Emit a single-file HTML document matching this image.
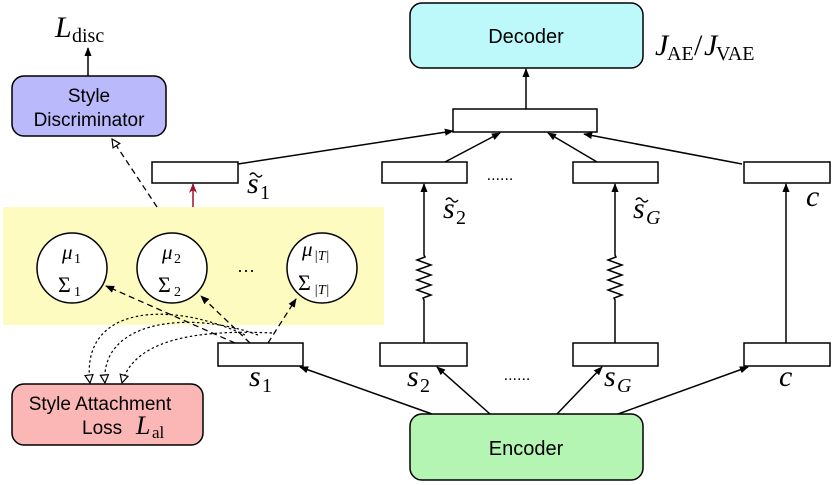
<!DOCTYPE html>
<html><head><meta charset="utf-8"><style>
html,body{margin:0;padding:0;background:#fff;}
svg{display:block;font-family:"Liberation Sans",sans-serif;}
.m{font-family:"Liberation Serif",serif;font-style:italic;}
.r{font-family:"Liberation Serif",serif;font-style:normal;}
</style></head><body>
<svg width="832" height="485" viewBox="0 0 832 485" xmlns="http://www.w3.org/2000/svg">
<defs>
<marker id="a" viewBox="0 0 10 10" refX="9" refY="5" markerWidth="9" markerHeight="9" orient="auto" markerUnits="userSpaceOnUse"><path d="M0,1 L10,5 L0,9 z" fill="#000"/></marker>
<marker id="ar" viewBox="0 0 10 10" refX="9" refY="5" markerWidth="10" markerHeight="10" orient="auto" markerUnits="userSpaceOnUse"><path d="M0,1 L10,5 L0,9 L3,5 z" fill="#a0102a"/></marker>
<marker id="o" viewBox="0 0 10 10" refX="9" refY="5" markerWidth="10" markerHeight="10" orient="auto" markerUnits="userSpaceOnUse"><path d="M1,1 L9,5 L1,9 z" fill="#fff" stroke="#000" stroke-width="1.2"/></marker>
</defs>
<rect x="3" y="207" width="381" height="118" fill="#fdfbbf"/>
<rect x="410" y="3" width="233" height="65" rx="12" fill="#bdf9fb" stroke="#000" stroke-width="1.5"/>
<text x="526" y="43" font-size="20" text-anchor="middle">Decoder</text>
<rect x="410" y="414" width="233" height="66" rx="12" fill="#b4f5b4" stroke="#000" stroke-width="1.5"/>
<text x="526" y="455" font-size="20" text-anchor="middle">Encoder</text>
<rect x="12" y="76" width="154" height="60" rx="12" fill="#b9b9fb" stroke="#000" stroke-width="1.5"/>
<text x="89" y="102" font-size="19" text-anchor="middle">Style</text>
<text x="89" y="126" font-size="19" text-anchor="middle">Discriminator</text>
<rect x="12" y="384" width="191" height="61" rx="12" fill="#fbb6b6" stroke="#000" stroke-width="1.5"/>
<text x="100" y="410" font-size="19" text-anchor="middle">Style Attachment</text>
<text x="82" y="434" font-size="19">Loss</text>
<text x="136" y="434" font-size="26" class="m">L</text><text x="152" y="438" font-size="17" class="r">al</text>
<g fill="#fff" stroke="#000" stroke-width="1.5">
<rect x="453" y="109" width="144" height="23"/>
<rect x="152" y="162" width="86" height="21"/>
<rect x="382" y="162" width="85" height="21"/>
<rect x="573" y="162" width="85" height="21"/>
<rect x="744" y="162" width="86" height="21"/>
<rect x="218" y="343" width="85" height="23"/>
<rect x="380" y="343" width="87" height="23"/>
<rect x="573" y="343" width="85" height="23"/>
<rect x="744" y="343" width="86" height="23"/>
<circle cx="72" cy="268" r="35"/>
<circle cx="172" cy="268" r="35"/>
<circle cx="322" cy="268" r="35"/>
</g>
<text x="62" y="259" font-size="21" class="m">μ</text><text x="74" y="263" font-size="14" class="r">1</text>
<text x="58" y="292" font-size="22" class="r">Σ</text><text x="74" y="296" font-size="14" class="r">1</text>
<text x="162" y="259" font-size="21" class="m">μ</text><text x="174" y="263" font-size="14" class="r">2</text>
<text x="158" y="292" font-size="22" class="r">Σ</text><text x="174" y="296" font-size="14" class="r">2</text>
<text x="302" y="256" font-size="21" class="m">μ</text><text x="314" y="260" font-size="14" class="m">|T|</text>
<text x="298" y="290" font-size="22" class="r">Σ</text><text x="314" y="294" font-size="14" class="m">|T|</text>
<text x="246" y="276" font-size="18" text-anchor="middle">···</text>
<g stroke="#000" stroke-width="1.5" fill="none" marker-end="url(#a)">
<line x1="526" y1="109" x2="526" y2="69"/>
<line x1="88" y1="76" x2="88" y2="48"/>
<line x1="238" y1="164" x2="453" y2="131"/>
<line x1="445" y1="162" x2="500" y2="133"/>
<line x1="597" y1="162" x2="548" y2="133"/>
<line x1="742" y1="164" x2="584" y2="134"/>
<line x1="786" y1="343" x2="786" y2="184"/>
<line x1="432" y1="414" x2="300" y2="367"/>
<line x1="490" y1="414" x2="437" y2="367"/>
<line x1="557" y1="414" x2="602" y2="367"/>
<line x1="618" y1="414" x2="748" y2="367"/>
<polyline points="424,343 424,300 423,298 431,295 417,290 431,285 417,280 431,275 417,270 431,265 417,260 425,257 424,255 424,184"/>
<polyline points="615,343 615,300 614,298 622,295 608,290 622,285 608,280 622,275 608,270 622,265 608,260 616,257 615,255 615,184"/>
</g>
<line x1="193" y1="207" x2="193" y2="184" stroke="#a0102a" stroke-width="1.5" marker-end="url(#ar)"/>
<g stroke="#000" stroke-width="1.3" fill="none" stroke-dasharray="6,4">
<line x1="157" y1="207" x2="112" y2="139" marker-end="url(#o)"/>
<line x1="235" y1="343" x2="106" y2="286" marker-end="url(#a)"/>
<line x1="250" y1="343" x2="201" y2="296" marker-end="url(#a)"/>
<line x1="268" y1="343" x2="296" y2="299" marker-end="url(#a)"/>
</g>
<g stroke="#000" stroke-width="1.2" fill="none" stroke-dasharray="2.5,2.5" marker-end="url(#o)">
<path d="M245,335 C170,300 80,305 90,383"/>
<path d="M258,335 C190,310 100,320 105,383"/>
<path d="M272,333 C210,330 135,335 122,383"/>
</g>
<!-- labels -->
<text x="55" y="37" font-size="30" class="m">L</text><text x="72" y="42" font-size="20" class="r">disc</text>
<text x="655" y="55" font-size="30" class="m">J</text><text x="667" y="60" font-size="20" class="r">AE</text><text x="694" y="55" font-size="30" class="r">/</text><text x="704" y="55" font-size="30" class="m">J</text><text x="716" y="60" font-size="20" class="r">VAE</text>
<g stroke="#000" stroke-width="1.4" fill="none">
<path d="M250,175 q3,-4 6,0 t6,0"/>
<path d="M446,200 q3,-4 6,0 t6,0"/>
<path d="M636,200 q3,-4 6,0 t6,0"/>
</g>
<text x="247" y="193" font-size="30" class="m">s</text><text x="260" y="199" font-size="20" class="r">1</text>
<text x="443" y="218" font-size="30" class="m">s</text><text x="456" y="224" font-size="20" class="r">2</text>
<text x="633" y="218" font-size="30" class="m">s</text><text x="646" y="224" font-size="20" class="m">G</text>
<text x="806" y="206" font-size="30" class="m">c</text>
<text x="249" y="386" font-size="30" class="m">s</text><text x="262" y="392" font-size="20" class="r">1</text>
<text x="407" y="386" font-size="30" class="m">s</text><text x="420" y="392" font-size="20" class="r">2</text>
<text x="604" y="386" font-size="30" class="m">s</text><text x="617" y="392" font-size="20" class="m">G</text>
<text x="779" y="386" font-size="30" class="m">c</text>
<text x="500" y="180" font-size="16" text-anchor="middle">......</text>
<text x="517" y="380" font-size="16" text-anchor="middle">......</text>
</svg>
</body></html>
